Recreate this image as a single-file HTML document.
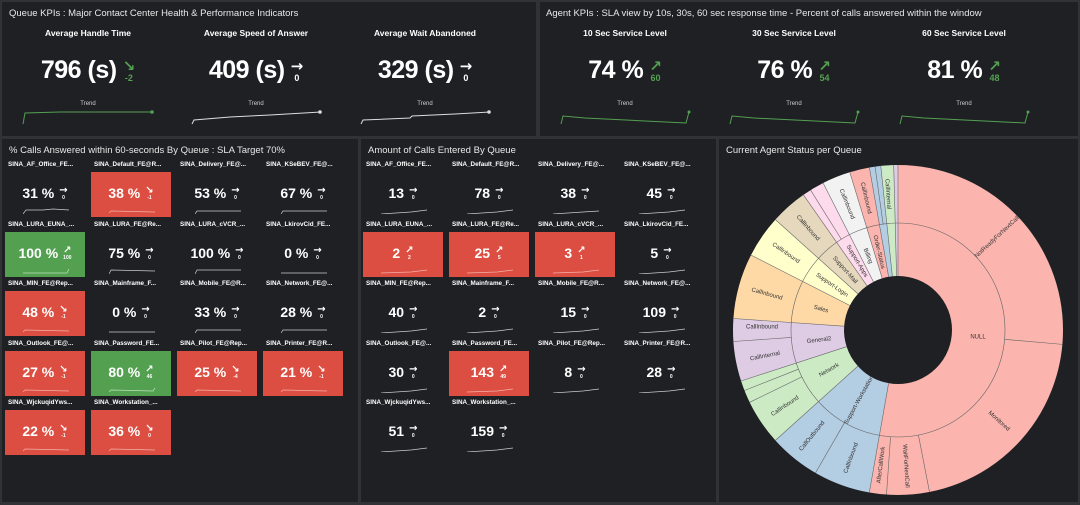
<!DOCTYPE html>
<html><head><meta charset="utf-8">
<style>
*{margin:0;padding:0;box-sizing:border-box}
body{width:1080px;height:505px;background:#303236;position:relative;overflow:hidden;font-family:"Liberation Sans",sans-serif;color:#fff}
.p{position:absolute;background:#1f2024}
.ttl{position:absolute;font-size:9.5px;color:#e8e8e8;white-space:nowrap}
.kt{position:absolute;width:170px;text-align:center;font-size:8.5px;font-weight:bold;top:28px}
.kv{position:absolute;width:170px;top:56px;display:flex;justify-content:center;align-items:center;gap:6px}
.kv .n{font-size:25px;font-weight:bold;letter-spacing:-0.5px}
.ka{display:flex;flex-direction:column;align-items:center;font-weight:bold;line-height:1}
.ka i{font-style:normal;font-size:15px;font-family:"DejaVu Sans",sans-serif}
.ka b{font-size:9px}
.g{color:#53a051}
.tr{position:absolute;width:170px;text-align:center;font-size:6px;color:#ccc;top:101px}
.t{position:absolute;width:80px;height:56px}
.lb{position:absolute;top:0;left:0;width:84px;font-size:6.3px;font-weight:bold;white-space:nowrap;overflow:hidden;padding-left:3px}
.bx{position:absolute;top:11px;left:0;width:80px;height:45px}
.r{background:#dc4e41}
.gr{background:#53a051}
.v{position:absolute;top:13px;left:0;width:80px;display:flex;justify-content:center;align-items:center;gap:5px}
.v .n{font-size:14px;font-weight:bold}
.v .a{display:flex;flex-direction:column;align-items:center;line-height:1;font-weight:bold}
.v .a i{font-style:normal;font-size:10px;font-family:"DejaVu Sans",sans-serif}
.v .a b{font-size:5px}
.sp{position:absolute;left:18px;top:34px;width:48px;height:8px}
</style></head><body>

<div class="p" style="left:2px;top:2px;width:534px;height:134px"></div>
<div class="p" style="left:540px;top:2px;width:538px;height:134px"></div>
<div class="p" style="left:2px;top:139px;width:356px;height:363px"></div>
<div class="p" style="left:361px;top:139px;width:355px;height:363px"></div>
<div class="p" style="left:719px;top:139px;width:359px;height:363px"></div>

<div class="ttl" style="left:9px;top:8px">Queue KPIs : Major Contact Center Health &amp; Performance Indicators</div>
<div class="ttl" style="left:546px;top:8px">Agent KPIs : SLA view by 10s, 30s, 60 sec response time - Percent of calls answered within the window</div>
<div class="ttl" style="left:9px;top:145px">% Calls Answered within 60-seconds By Queue : SLA Target 70%</div>
<div class="ttl" style="left:368px;top:145px">Amount of Calls Entered By Queue</div>
<div class="ttl" style="left:726px;top:145px">Current Agent Status per Queue</div>

<div class="kt" style="left:3px">Average Handle Time</div>
<div class="kt" style="left:171px">Average Speed of Answer</div>
<div class="kt" style="left:340px">Average Wait Abandoned</div>
<div class="kv" style="left:3px"><span class="n">796 (s)</span><span class="ka g"><i>↘</i><b>-2</b></span></div>
<div class="kv" style="left:171px"><span class="n">409 (s)</span><span class="ka"><i>→</i><b>0</b></span></div>
<div class="kv" style="left:340px"><span class="n">329 (s)</span><span class="ka"><i>→</i><b>0</b></span></div>
<div class="tr" style="left:3px">Trend</div>
<div class="tr" style="left:171px">Trend</div>
<div class="tr" style="left:340px">Trend</div>

<div class="kt" style="left:540px">10 Sec Service Level</div>
<div class="kt" style="left:709px">30 Sec Service Level</div>
<div class="kt" style="left:879px">60 Sec Service Level</div>
<div class="kv" style="left:540px"><span class="n">74 %</span><span class="ka g"><i>↗</i><b>60</b></span></div>
<div class="kv" style="left:709px"><span class="n">76 %</span><span class="ka g"><i>↗</i><b>54</b></span></div>
<div class="kv" style="left:879px"><span class="n">81 %</span><span class="ka g"><i>↗</i><b>48</b></span></div>
<div class="tr" style="left:540px">Trend</div>
<div class="tr" style="left:709px">Trend</div>
<div class="tr" style="left:879px">Trend</div>

<svg style="position:absolute;left:0;top:0" width="1080" height="505">
<g fill="none" stroke-width="1">
<polyline stroke="#53a051" points="23,124 25,113 60,112 153,112"/><circle cx="152" cy="112" r="1.8" fill="#53a051"/>
<polyline stroke="#ddd" points="192,124 194,120 230,117 270,115 321,112"/><circle cx="320" cy="112" r="1.8" fill="#ddd"/>
<polyline stroke="#ddd" points="361,124 363,120 410,118 412,116 455,114 490,112"/><circle cx="489" cy="112" r="1.8" fill="#ddd"/>
<polyline stroke="#53a051" points="561,124 563,116 585,118 686,123 689,112"/><circle cx="689" cy="112" r="1.5" fill="#53a051"/>
<polyline stroke="#53a051" points="730,124 732,116 754,118 855,123 858,112"/><circle cx="858" cy="112" r="1.5" fill="#53a051"/>
<polyline stroke="#53a051" points="900,124 902,116 924,118 1025,123 1028,112"/><circle cx="1028" cy="112" r="1.5" fill="#53a051"/>
</g>
</svg>

<div class="t" style="left:5px;top:161px"><div class="lb">SINA_AF_Office_FE...</div><div class="bx"><div class="v"><span class="n">31 %</span><span class="a"><i>→</i><b>0</b></span></div><svg class="sp"><polyline fill="none" stroke="#ccc" stroke-width=".7" points="0,8 3,4 20,4 30,3 46,4"/></svg></div></div>
<div class="t" style="left:91px;top:161px"><div class="lb">SINA_Default_FE@R...</div><div class="bx r"><div class="v"><span class="n">38 %</span><span class="a"><i>↘</i><b>-1</b></span></div><svg class="sp"><polyline fill="none" stroke="#f3b0a8" stroke-width=".7" points="0,7 2,5 46,6"/></svg></div></div>
<div class="t" style="left:177px;top:161px"><div class="lb">SINA_Delivery_FE@...</div><div class="bx"><div class="v"><span class="n">53 %</span><span class="a"><i>→</i><b>0</b></span></div><svg class="sp"><polyline fill="none" stroke="#ccc" stroke-width=".7" points="0,8 2,5 46,5"/></svg></div></div>
<div class="t" style="left:263px;top:161px"><div class="lb">SINA_KSeBEV_FE@...</div><div class="bx"><div class="v"><span class="n">67 %</span><span class="a"><i>→</i><b>0</b></span></div><svg class="sp"><polyline fill="none" stroke="#ccc" stroke-width=".7" points="0,8 2,5 46,5"/></svg></div></div>

<div class="t" style="left:5px;top:221px"><div class="lb">SINA_LURA_EUNA_...</div><div class="bx gr"><div class="v"><span class="n">100 %</span><span class="a"><i>↗</i><b>100</b></span></div><svg class="sp"><polyline fill="none" stroke="#bde0bb" stroke-width=".7" points="0,7 44,7 46,3"/></svg></div></div>
<div class="t" style="left:91px;top:221px"><div class="lb">SINA_LURA_FE@Re...</div><div class="bx"><div class="v"><span class="n">75 %</span><span class="a"><i>→</i><b>0</b></span></div><svg class="sp"><polyline fill="none" stroke="#ccc" stroke-width=".7" points="0,8 2,4 46,5"/></svg></div></div>
<div class="t" style="left:177px;top:221px"><div class="lb">SINA_LURA_cVCR_...</div><div class="bx"><div class="v"><span class="n">100 %</span><span class="a"><i>→</i><b>0</b></span></div><svg class="sp"><polyline fill="none" stroke="#ccc" stroke-width=".7" points="0,8 2,4 46,4"/></svg></div></div>
<div class="t" style="left:263px;top:221px"><div class="lb">SINA_LkirovCid_FE...</div><div class="bx"><div class="v"><span class="n">0 %</span><span class="a"><i>→</i><b>0</b></span></div><svg class="sp"><polyline fill="none" stroke="#ccc" stroke-width=".7" points="0,7 46,7"/></svg></div></div>

<div class="t" style="left:5px;top:280px"><div class="lb">SINA_MIN_FE@Rep...</div><div class="bx r"><div class="v"><span class="n">48 %</span><span class="a"><i>↘</i><b>-1</b></span></div><svg class="sp"><polyline fill="none" stroke="#f3b0a8" stroke-width=".7" points="0,7 2,5 46,6"/></svg></div></div>
<div class="t" style="left:91px;top:280px"><div class="lb">SINA_Mainframe_F...</div><div class="bx"><div class="v"><span class="n">0 %</span><span class="a"><i>→</i><b>0</b></span></div><svg class="sp"><polyline fill="none" stroke="#ccc" stroke-width=".7" points="0,7 46,7"/></svg></div></div>
<div class="t" style="left:177px;top:280px"><div class="lb">SINA_Mobile_FE@R...</div><div class="bx"><div class="v"><span class="n">33 %</span><span class="a"><i>→</i><b>0</b></span></div><svg class="sp"><polyline fill="none" stroke="#ccc" stroke-width=".7" points="0,8 2,5 46,5"/></svg></div></div>
<div class="t" style="left:263px;top:280px"><div class="lb">SINA_Network_FE@...</div><div class="bx"><div class="v"><span class="n">28 %</span><span class="a"><i>→</i><b>0</b></span></div><svg class="sp"><polyline fill="none" stroke="#ccc" stroke-width=".7" points="0,8 2,5 46,5"/></svg></div></div>

<div class="t" style="left:5px;top:340px"><div class="lb">SINA_Outlook_FE@...</div><div class="bx r"><div class="v"><span class="n">27 %</span><span class="a"><i>↘</i><b>-1</b></span></div><svg class="sp"><polyline fill="none" stroke="#f3b0a8" stroke-width=".7" points="0,7 2,5 46,6"/></svg></div></div>
<div class="t" style="left:91px;top:340px"><div class="lb">SINA_Password_FE...</div><div class="bx gr"><div class="v"><span class="n">80 %</span><span class="a"><i>↗</i><b>46</b></span></div><svg class="sp"><polyline fill="none" stroke="#bde0bb" stroke-width=".7" points="0,7 2,5 44,6 46,3"/></svg></div></div>
<div class="t" style="left:177px;top:340px"><div class="lb">SINA_Pilot_FE@Rep...</div><div class="bx r"><div class="v"><span class="n">25 %</span><span class="a"><i>↘</i><b>-4</b></span></div><svg class="sp"><polyline fill="none" stroke="#f3b0a8" stroke-width=".7" points="0,7 2,5 46,6"/></svg></div></div>
<div class="t" style="left:263px;top:340px"><div class="lb">SINA_Printer_FE@R...</div><div class="bx r"><div class="v"><span class="n">21 %</span><span class="a"><i>↘</i><b>-1</b></span></div><svg class="sp"><polyline fill="none" stroke="#f3b0a8" stroke-width=".7" points="0,7 2,5 46,6"/></svg></div></div>

<div class="t" style="left:5px;top:399px"><div class="lb">SINA_WjckuqidYws...</div><div class="bx r"><div class="v"><span class="n">22 %</span><span class="a"><i>↘</i><b>-1</b></span></div><svg class="sp"><polyline fill="none" stroke="#f3b0a8" stroke-width=".7" points="0,7 2,5 46,6"/></svg></div></div>
<div class="t" style="left:91px;top:399px"><div class="lb">SINA_Workstation_...</div><div class="bx r"><div class="v"><span class="n">36 %</span><span class="a"><i>↘</i><b>0</b></span></div><svg class="sp"><polyline fill="none" stroke="#f3b0a8" stroke-width=".7" points="0,7 2,5 46,6"/></svg></div></div>

<div class="t" style="left:363px;top:161px"><div class="lb">SINA_AF_Office_FE...</div><div class="bx"><div class="v"><span class="n">13</span><span class="a"><i>→</i><b>0</b></span></div><svg class="sp"><polyline fill="none" stroke="#ccc" stroke-width=".7" points="0,8 30,6 46,4"/></svg></div></div>
<div class="t" style="left:449px;top:161px"><div class="lb">SINA_Default_FE@R...</div><div class="bx"><div class="v"><span class="n">78</span><span class="a"><i>→</i><b>0</b></span></div><svg class="sp"><polyline fill="none" stroke="#ccc" stroke-width=".7" points="0,8 30,6 46,4"/></svg></div></div>
<div class="t" style="left:535px;top:161px"><div class="lb">SINA_Delivery_FE@...</div><div class="bx"><div class="v"><span class="n">38</span><span class="a"><i>→</i><b>0</b></span></div><svg class="sp"><polyline fill="none" stroke="#ccc" stroke-width=".7" points="0,8 30,6 46,5"/></svg></div></div>
<div class="t" style="left:621px;top:161px"><div class="lb">SINA_KSeBEV_FE@...</div><div class="bx"><div class="v"><span class="n">45</span><span class="a"><i>→</i><b>0</b></span></div><svg class="sp"><polyline fill="none" stroke="#ccc" stroke-width=".7" points="0,8 30,6 46,4"/></svg></div></div>

<div class="t" style="left:363px;top:221px"><div class="lb">SINA_LURA_EUNA_...</div><div class="bx r"><div class="v"><span class="n">2</span><span class="a"><i>↗</i><b>2</b></span></div><svg class="sp"><polyline fill="none" stroke="#f3b0a8" stroke-width=".7" points="0,7 30,6 46,4"/></svg></div></div>
<div class="t" style="left:449px;top:221px"><div class="lb">SINA_LURA_FE@Re...</div><div class="bx r"><div class="v"><span class="n">25</span><span class="a"><i>↗</i><b>5</b></span></div><svg class="sp"><polyline fill="none" stroke="#f3b0a8" stroke-width=".7" points="0,7 30,6 46,4"/></svg></div></div>
<div class="t" style="left:535px;top:221px"><div class="lb">SINA_LURA_cVCR_...</div><div class="bx r"><div class="v"><span class="n">3</span><span class="a"><i>↗</i><b>1</b></span></div><svg class="sp"><polyline fill="none" stroke="#f3b0a8" stroke-width=".7" points="0,7 30,6 46,4"/></svg></div></div>
<div class="t" style="left:621px;top:221px"><div class="lb">SINA_LkirovCid_FE...</div><div class="bx"><div class="v"><span class="n">5</span><span class="a"><i>→</i><b>0</b></span></div><svg class="sp"><polyline fill="none" stroke="#ccc" stroke-width=".7" points="0,8 30,6 46,4"/></svg></div></div>

<div class="t" style="left:363px;top:280px"><div class="lb">SINA_MIN_FE@Rep...</div><div class="bx"><div class="v"><span class="n">40</span><span class="a"><i>→</i><b>0</b></span></div><svg class="sp"><polyline fill="none" stroke="#ccc" stroke-width=".7" points="0,8 30,6 46,4"/></svg></div></div>
<div class="t" style="left:449px;top:280px"><div class="lb">SINA_Mainframe_F...</div><div class="bx"><div class="v"><span class="n">2</span><span class="a"><i>→</i><b>0</b></span></div><svg class="sp"><polyline fill="none" stroke="#ccc" stroke-width=".7" points="0,8 30,6 46,4"/></svg></div></div>
<div class="t" style="left:535px;top:280px"><div class="lb">SINA_Mobile_FE@R...</div><div class="bx"><div class="v"><span class="n">15</span><span class="a"><i>→</i><b>0</b></span></div><svg class="sp"><polyline fill="none" stroke="#ccc" stroke-width=".7" points="0,8 30,6 46,4"/></svg></div></div>
<div class="t" style="left:621px;top:280px"><div class="lb">SINA_Network_FE@...</div><div class="bx"><div class="v"><span class="n">109</span><span class="a"><i>→</i><b>0</b></span></div><svg class="sp"><polyline fill="none" stroke="#ccc" stroke-width=".7" points="0,8 30,6 46,4"/></svg></div></div>

<div class="t" style="left:363px;top:340px"><div class="lb">SINA_Outlook_FE@...</div><div class="bx"><div class="v"><span class="n">30</span><span class="a"><i>→</i><b>0</b></span></div><svg class="sp"><polyline fill="none" stroke="#ccc" stroke-width=".7" points="0,8 30,6 46,4"/></svg></div></div>
<div class="t" style="left:449px;top:340px"><div class="lb">SINA_Password_FE...</div><div class="bx r"><div class="v"><span class="n">143</span><span class="a"><i>↗</i><b>49</b></span></div><svg class="sp"><polyline fill="none" stroke="#f3b0a8" stroke-width=".7" points="0,7 30,6 46,4"/></svg></div></div>
<div class="t" style="left:535px;top:340px"><div class="lb">SINA_Pilot_FE@Rep...</div><div class="bx"><div class="v"><span class="n">8</span><span class="a"><i>→</i><b>0</b></span></div><svg class="sp"><polyline fill="none" stroke="#ccc" stroke-width=".7" points="0,8 30,6 46,4"/></svg></div></div>
<div class="t" style="left:621px;top:340px"><div class="lb">SINA_Printer_FE@R...</div><div class="bx"><div class="v"><span class="n">28</span><span class="a"><i>→</i><b>0</b></span></div><svg class="sp"><polyline fill="none" stroke="#ccc" stroke-width=".7" points="0,8 30,6 46,4"/></svg></div></div>

<div class="t" style="left:363px;top:399px"><div class="lb">SINA_WjckuqidYws...</div><div class="bx"><div class="v"><span class="n">51</span><span class="a"><i>→</i><b>0</b></span></div><svg class="sp"><polyline fill="none" stroke="#ccc" stroke-width=".7" points="0,8 30,6 46,4"/></svg></div></div>
<div class="t" style="left:449px;top:399px"><div class="lb">SINA_Workstation_...</div><div class="bx"><div class="v"><span class="n">159</span><span class="a"><i>→</i><b>0</b></span></div><svg class="sp"><polyline fill="none" stroke="#ccc" stroke-width=".7" points="0,8 30,6 46,4"/></svg></div></div>

<svg style="position:absolute;left:0;top:0" width="1080" height="505">
<g fill="none" stroke-width="53">
<circle cx="898" cy="330" r="80.5" stroke="#fbb4ae" stroke-dasharray="267.5 2000" transform="rotate(-90 898 330)"/>
<circle cx="898" cy="330" r="80.5" stroke="#b3cde3" stroke-dasharray="53.8 2000" transform="rotate(100 898 330)"/>
<circle cx="898" cy="330" r="80.5" stroke="#ccebc5" stroke-dasharray="34 2000" transform="rotate(138 898 330)"/>
<circle cx="898" cy="330" r="80.5" stroke="#decbe4" stroke-dasharray="31.2 2000" transform="rotate(162 898 330)"/>
<circle cx="898" cy="330" r="80.5" stroke="#fed9a6" stroke-dasharray="32.6 2000" transform="rotate(184 898 330)"/>
<circle cx="898" cy="330" r="80.5" stroke="#ffffcc" stroke-dasharray="21.4 2000" transform="rotate(207 898 330)"/>
<circle cx="898" cy="330" r="80.5" stroke="#e5d8bd" stroke-dasharray="18.6 2000" transform="rotate(222 898 330)"/>
<circle cx="898" cy="330" r="80.5" stroke="#fddaec" stroke-dasharray="11.5 2000" transform="rotate(235 898 330)"/>
<circle cx="898" cy="330" r="80.5" stroke="#f2f2f2" stroke-dasharray="14.3 2000" transform="rotate(243 898 330)"/>
<circle cx="898" cy="330" r="80.5" stroke="#fbb4ae" stroke-dasharray="10 2000" transform="rotate(253 898 330)"/>
<circle cx="898" cy="330" r="80.5" stroke="#b3cde3" stroke-dasharray="5.8 2000" transform="rotate(260 898 330)"/>
<circle cx="898" cy="330" r="80.5" stroke="#ccebc5" stroke-dasharray="6.5 2000" transform="rotate(264 898 330)"/>
<circle cx="898" cy="330" r="80.5" stroke="#decbe4" stroke-dasharray="2.4 2000" transform="rotate(268.5 898 330)"/>
</g>
<g fill="none" stroke-width="58">
<circle cx="898" cy="330" r="136" stroke="#fbb4ae" stroke-dasharray="451.5 2000" transform="rotate(-90 898 330)"/>
<circle cx="898" cy="330" r="136" stroke="#b3cde3" stroke-dasharray="90.5 2000" transform="rotate(100 898 330)"/>
<circle cx="898" cy="330" r="136" stroke="#ccebc5" stroke-dasharray="57.3 2000" transform="rotate(138 898 330)"/>
<circle cx="898" cy="330" r="136" stroke="#decbe4" stroke-dasharray="52.5 2000" transform="rotate(162 898 330)"/>
<circle cx="898" cy="330" r="136" stroke="#fed9a6" stroke-dasharray="54.9 2000" transform="rotate(184 898 330)"/>
<circle cx="898" cy="330" r="136" stroke="#ffffcc" stroke-dasharray="35.9 2000" transform="rotate(207 898 330)"/>
<circle cx="898" cy="330" r="136" stroke="#e5d8bd" stroke-dasharray="31.2 2000" transform="rotate(222 898 330)"/>
<circle cx="898" cy="330" r="136" stroke="#fddaec" stroke-dasharray="19.3 2000" transform="rotate(235 898 330)"/>
<circle cx="898" cy="330" r="136" stroke="#f2f2f2" stroke-dasharray="24 2000" transform="rotate(243 898 330)"/>
<circle cx="898" cy="330" r="136" stroke="#fbb4ae" stroke-dasharray="16.9 2000" transform="rotate(253 898 330)"/>
<circle cx="898" cy="330" r="136" stroke="#b3cde3" stroke-dasharray="9.7 2000" transform="rotate(260 898 330)"/>
<circle cx="898" cy="330" r="136" stroke="#ccebc5" stroke-dasharray="11 2000" transform="rotate(264 898 330)"/>
<circle cx="898" cy="330" r="136" stroke="#decbe4" stroke-dasharray="3.8 2000" transform="rotate(268.5 898 330)"/>
</g>
<circle cx="898" cy="330" r="107" fill="none" stroke="#666" stroke-width=".6"/>
<g stroke="#666" stroke-width=".6">
<line x1="898" y1="276" x2="898" y2="165" transform="rotate(0 898 330)"/>
<line x1="898" y1="276" x2="898" y2="165" transform="rotate(190 898 330)"/>
<line x1="898" y1="276" x2="898" y2="165" transform="rotate(228 898 330)"/>
<line x1="898" y1="276" x2="898" y2="165" transform="rotate(252 898 330)"/>
<line x1="898" y1="276" x2="898" y2="165" transform="rotate(274 898 330)"/>
<line x1="898" y1="276" x2="898" y2="165" transform="rotate(297 898 330)"/>
<line x1="898" y1="276" x2="898" y2="165" transform="rotate(312 898 330)"/>
<line x1="898" y1="276" x2="898" y2="165" transform="rotate(325 898 330)"/>
<line x1="898" y1="276" x2="898" y2="165" transform="rotate(333 898 330)"/>
<line x1="898" y1="276" x2="898" y2="165" transform="rotate(343 898 330)"/>
<line x1="898" y1="276" x2="898" y2="165" transform="rotate(350 898 330)"/>
<line x1="898" y1="276" x2="898" y2="165" transform="rotate(354 898 330)"/>
<line x1="898" y1="276" x2="898" y2="165" transform="rotate(358.5 898 330)"/>
<line x1="898" y1="223" x2="898" y2="165" transform="rotate(95 898 330)"/>
<line x1="898" y1="223" x2="898" y2="165" transform="rotate(169 898 330)"/>
<line x1="898" y1="223" x2="898" y2="165" transform="rotate(184 898 330)"/>
<line x1="898" y1="223" x2="898" y2="165" transform="rotate(210 898 330)"/>
<line x1="898" y1="223" x2="898" y2="165" transform="rotate(244 898 330)"/>
<line x1="898" y1="223" x2="898" y2="165" transform="rotate(248.5 898 330)"/>
<line x1="898" y1="223" x2="898" y2="165" transform="rotate(266 898 330)"/>
<line x1="898" y1="223" x2="898" y2="165" transform="rotate(328 898 330)"/>
<line x1="898" y1="223" x2="898" y2="165" transform="rotate(352 898 330)"/>
</g>
<g font-family="Liberation Sans, sans-serif" font-size="6" fill="#333" text-anchor="middle" dominant-baseline="middle">
<text x="978" y="337">NULL</text>
<text x="997" y="237" transform="rotate(-43 997 237)">NotReadyForNextCall</text>
<text x="999" y="421" transform="rotate(42 999 421)">Monitored</text>
<text x="906" y="466" transform="rotate(86.5 906 466)">WaitForNextCall</text>
<text x="881" y="465" transform="rotate(277 881 465)">AfterCallWork</text>
<text x="851" y="458" transform="rotate(290 851 458)">CallInbound</text>
<text x="812" y="436" transform="rotate(309 812 436)">CallOutbound</text>
<text x="785" y="406" transform="rotate(326 785 406)">CallInbound</text>
<text x="765" y="356" transform="rotate(349 765 356)">CallInternal</text>
<text x="762" y="327">CallInbound</text>
<text x="767" y="294" transform="rotate(15.5 767 294)">CallInbound</text>
<text x="786" y="253" transform="rotate(34.5 786 253)">CallInbound</text>
<text x="808" y="228" transform="rotate(48.5 808 228)">CallInbound</text>
<text x="847" y="204" transform="rotate(68 847 204)">CallInbound</text>
<text x="866" y="198" transform="rotate(76.5 866 198)">CallInbound</text>
<text x="888" y="194" transform="rotate(86 888 194)">CallInternal</text>
<text x="859" y="400" transform="rotate(299 859 400)">Support-Workstation</text>
<text x="829" y="370" transform="rotate(330 829 370)">Network</text>
<text x="819" y="340" transform="rotate(353 819 340)">General2</text>
<text x="821" y="309" transform="rotate(15.5 821 309)">Sales</text>
<text x="832" y="285" transform="rotate(34.5 832 285)">Support-Login</text>
<text x="845" y="270" transform="rotate(48.5 845 270)">Support-Mail</text>
<text x="857" y="261" transform="rotate(59 857 261)">Support-Apps</text>
<text x="868" y="256" transform="rotate(68 868 256)">Billing</text>
<text x="879" y="252" transform="rotate(76.5 879 252)">Order-Status</text>
</g>
</svg>
</body></html>
